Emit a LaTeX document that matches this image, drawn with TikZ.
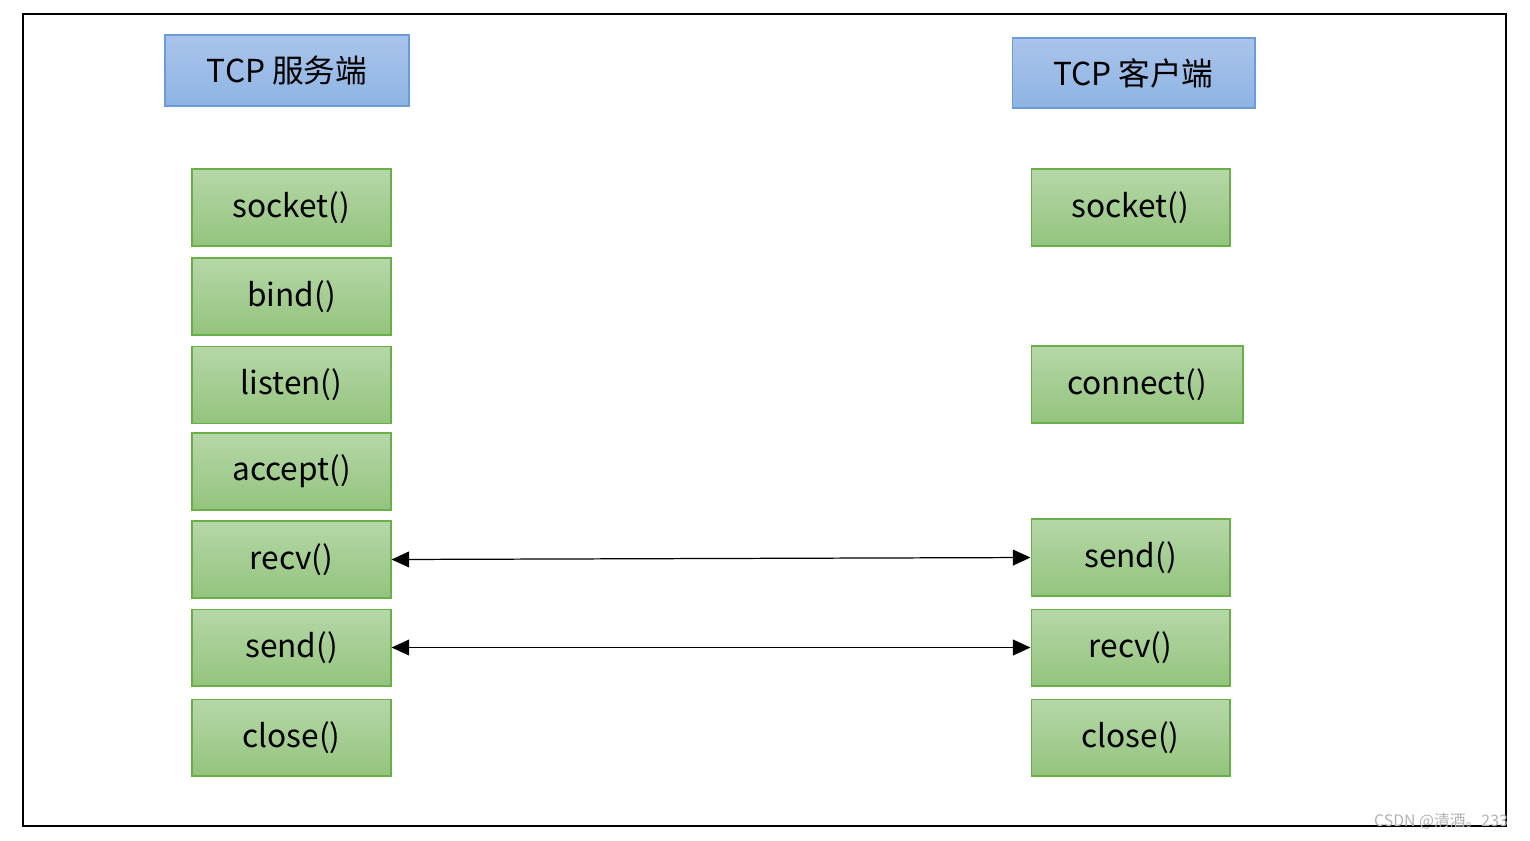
\documentclass[tikz,border=0pt]{standalone}
\usepackage{fontspec}
\setmainfont{Noto Sans CJK SC}
\usetikzlibrary{arrows.meta}
\definecolor{greenedge}{HTML}{6AAE47}
\definecolor{greentop}{HTML}{B6D7A8}
\definecolor{greenbot}{HTML}{93C47D}
\definecolor{blueedge}{HTML}{6C9BD9}
\definecolor{bluetop}{HTML}{A9C4EB}
\definecolor{bluebot}{HTML}{8EB4E3}
\tikzset{
  call/.style={draw=greenedge, line width=0.6pt, top color=greentop, bottom color=greenbot,
    minimum width=3.98cm, minimum height=1.54cm, inner sep=0pt, font=\fontsize{18}{20}\selectfont},
  head/.style={draw=blueedge, line width=0.6pt, top color=bluetop, bottom color=bluebot,
    minimum width=4.88cm, minimum height=1.42cm, inner sep=0pt, font=\fontsize{18}{20}\selectfont},
  link/.style={{Triangle[length=10pt,width=9pt]}-{Triangle[length=10pt,width=9pt]}, line width=0.7pt}
}
\begin{document}
\begin{tikzpicture}[x=0.02cm, y=-0.02cm]
		%%%%% FRAME %%%%%
		\useasboundingbox (0,0) rectangle (1530,840);
		\draw[line width=1.2pt] (23,14) rectangle (1506,826);
		
		%%%%% HEADERS %%%%%
		\node[head] (srv) at (287,70.5) {TCP 服务端};
		\node[head, minimum width=4.86cm, minimum height=1.40cm] (cli) at (1133.5,73) {TCP 客户端};
		
		%%%%% SERVER %%%%%
		\node[call] (ssocket) at (291.5,207.5) {socket()};
		\node[call] (sbind) at (291.5,296.5) {bind()};
		\node[call] (slisten) at (291.5,385) {listen()};
		\node[call] (saccept) at (291.5,471.5) {accept()};
		\node[call] (srecv) at (291.5,559.5) {recv()};
		\node[call] (ssend) at (291.5,647.5) {send()};
		\node[call] (sclose) at (291.5,737.5) {close()};
		
		%%%%% CLIENT %%%%%
		\node[call] (csocket) at (1130.5,207.5) {socket()};
		\node[call, minimum width=4.24cm] (cconnect) at (1137,384.5) {connect()};
		\node[call] (csend) at (1130.5,557.5) {send()};
		\node[call] (crecv) at (1130.5,647.5) {recv()};
		\node[call] (cclose) at (1130.5,737.5) {close()};
		
		%%%%% LINKS %%%%%
		\draw[link] (srecv.east) -- (csend.west);
		\draw[link] (ssend.east) -- (crecv.west);
		
		\node[text=black!30, font=\fontsize{9}{10}\selectfont, anchor=east] (mark) at (1514,821) {CSDN @清酒。233};
\end{tikzpicture}
\end{document}
